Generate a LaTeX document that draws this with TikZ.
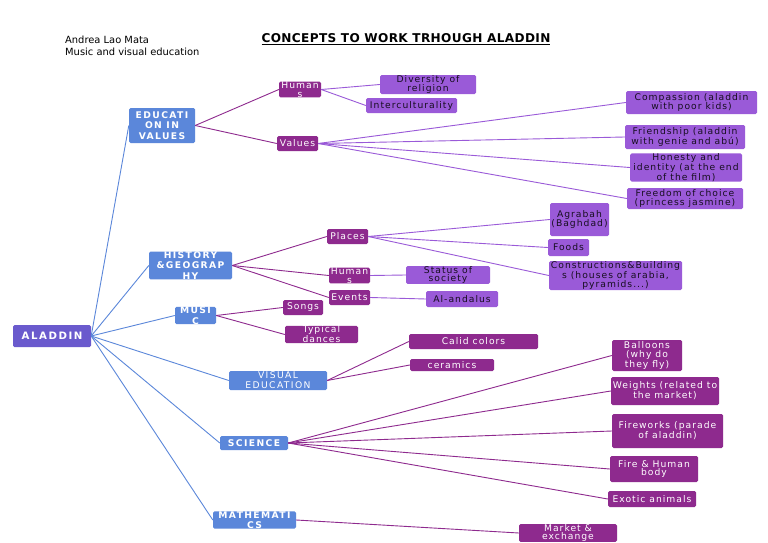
\documentclass[tikz,border=0pt]{standalone}
\usepackage{fontspec}
\setmainfont{DejaVu Sans}
\newfontfamily\boxfont[LetterSpace=11]{DejaVu Sans}
\newfontfamily\catfont[LetterSpace=15]{DejaVu Sans}
\newfontfamily\titlefont[LetterSpace=3]{DejaVu Sans}
\definecolor{aladC}{HTML}{6A5ACD}
\definecolor{catC}{HTML}{5B87DA}
\definecolor{subC}{HTML}{8E2A8E}
\definecolor{leafC}{HTML}{9A5AD8}
\newcommand\bx[7]{\node[#2, minimum width={#5-#3}, minimum height={#6-#4}] (#1) at ({(#3+#5)/2},{(#4+#6)/2}) {#7};}
\begin{document}
\begin{tikzpicture}[x=1pt,y=-1pt,
  box/.style={rounded corners=1.5pt, inner sep=0pt, align=center, font=\boxfont\fontsize{9.2}{8.9}\selectfont},
  cat/.style={box, fill=catC, text=white, font=\catfont\bfseries\fontsize{9.2}{10.4}\selectfont},
  sub/.style={box, fill=subC, text=white},
  leaf/.style={box, fill=leafC, text=black!85!leafC},
  catline/.style={draw=catC, line width=0.9pt},
  subline/.style={draw=subC, line width=0.9pt},
  leafline/.style={draw=leafC, line width=0.9pt},
  hdr/.style={inner sep=0pt, anchor=west, font=\fontsize{9.9}{11}\selectfont}]
\useasboundingbox[fill=white] (0,0) rectangle (768,543);
% header
\node[hdr] (author) at (65,40) {Andrea Lao Mata};
\node[hdr] (course) at (65,52) {Music and visual education};
\node[inner sep=0pt, font=\titlefont\bfseries\fontsize{12.1}{13}\selectfont] (title) at (406,39) {\underline{CONCEPTS TO WORK TRHOUGH ALADDIN}};
% root
\bx{aladdin}{box, fill=aladC, text=white, font=\catfont\bfseries\fontsize{10.2}{10}\selectfont}{13}{325}{91}{347}{ALADDIN}
% categories
\bx{edu}{cat}{129}{108}{195}{143}{EDUCATI\\ON IN\\VALUES}
\bx{hist}{cat}{149}{254}{232}{277}{HISTORY\\\&GEOGRAP\\HY}
\bx{music}{cat}{175}{307}{216}{324}{MUSI\\C}
\bx{visual}{cat, font=\catfont\fontsize{9.2}{10}\selectfont}{229}{371}{327}{390}{VISUAL\\EDUCATION}
\bx{science}{cat}{220}{436}{288}{450}{SCIENCE}
\bx{math}{cat}{213}{512}{296}{528}{MATHEMATI\\CS}
% level 2
\bx{humans1}{sub}{279}{82}{321}{97}{Human\\s}
\bx{values}{sub}{277}{136}{318}{151}{Values}
\bx{places}{sub}{327}{229}{368}{244}{Places}
\bx{humans2}{sub}{329}{268}{370}{283}{Human\\s}
\bx{events}{sub}{329}{290}{370}{305}{Events}
\bx{songs}{sub}{283}{300}{323}{315}{Songs}
\bx{dances}{sub}{285}{327}{358}{342}{Typical\\dances}
\bx{calid}{sub}{409}{334}{538}{349}{Calid colors}
\bx{ceramics}{sub}{410}{359}{494}{371}{ceramics}
\bx{balloons}{sub}{612}{340}{682}{371}{Balloons\\(why do\\they fly)}
\bx{weights}{sub}{611}{377}{719}{405}{Weights (related to\\the market)}
\bx{fireworks}{sub}{612}{414}{723}{448}{Fireworks (parade\\of aladdin)}
\bx{fire}{sub}{610}{456}{698}{482}{Fire \& Human\\body}
\bx{exotic}{sub}{608}{491}{696}{507}{Exotic animals}
\bx{market}{sub}{519}{525}{617}{541}{Market \&\\exchange}
% level 3
\bx{diversity}{leaf}{380}{75}{476}{94}{Diversity of\\religion}
\bx{inter}{leaf}{366}{98}{457}{113}{Interculturality}
\bx{compassion}{leaf}{626}{91}{757}{114}{Compassion (aladdin\\with poor kids)}
\bx{friendship}{leaf}{625}{125}{745}{149}{Friendship (aladdin\\with genie and abú)}
\bx{honesty}{leaf}{630}{157}{742}{178}{Honesty and\\identity (at the end\\of the film)}
\bx{freedom}{leaf}{627}{188}{743}{209}{Freedom of choice\\(princess jasmine)}
\bx{agrabah}{leaf}{550}{203}{609}{236}{Agrabah\\(Baghdad)}
\bx{foods}{leaf}{548}{239}{589}{256}{Foods}
\bx{constr}{leaf}{549}{261}{682}{290}{Constructions\&Building\\s (houses of arabia,\\pyramids...)}
\bx{status}{leaf}{406}{267}{490}{283}{Status of\\society}
\bx{andalus}{leaf}{426}{291}{498}{307}{Al-andalus}
% connectors root -> categories
\foreach \c in {edu,hist,music,visual,science,math}
  \draw[catline] (aladdin.east) -- (\c.west);
% categories -> level 2
\foreach \a/\b in {edu/humans1, edu/values, hist/places, hist/humans2, hist/events,
  music/songs, music/dances, visual/calid, visual/ceramics,
  science/balloons, science/weights, science/fireworks, science/fire, science/exotic,
  math/market}
  \draw[subline] (\a.east) -- (\b.west);
% level 2 -> level 3
\foreach \a/\b in {humans1/diversity, humans1/inter, values/compassion, values/friendship,
  values/honesty, values/freedom, places/agrabah, places/foods, places/constr,
  humans2/status, events/andalus}
  \draw[leafline] (\a.east) -- (\b.west);
\end{tikzpicture}
\end{document}
